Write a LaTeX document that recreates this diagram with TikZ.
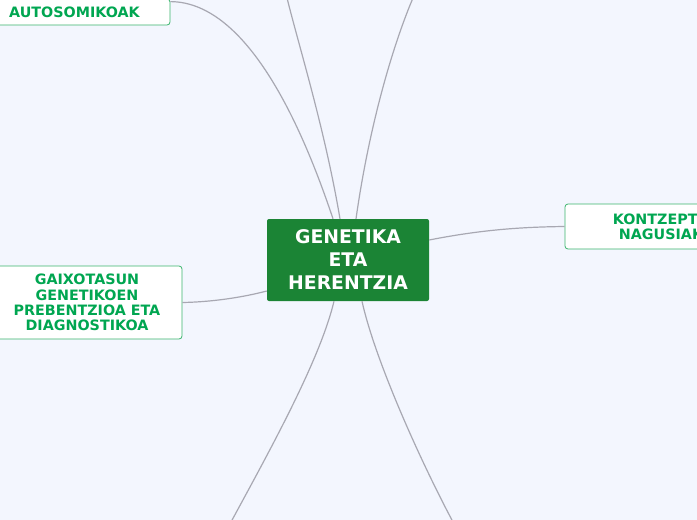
\documentclass[tikz,border=0pt]{standalone}
\usepackage{fontspec}
\setmainfont{DejaVu Sans}
\definecolor{fond}{HTML}{F3F6FE}
\definecolor{vertfonce}{HTML}{1B8435}
\definecolor{vertbord}{HTML}{3BB56D}
\definecolor{verttexte}{HTML}{00A651}
\definecolor{gris}{HTML}{A8A8B2}
\begin{document}
\begin{tikzpicture}[x=1pt,y=-1pt,
  centre/.style={fill=vertfonce, rounded corners=2pt, text=white,
    font=\bfseries\fontsize{18.8}{23}\selectfont, align=center,
    minimum width=162pt, minimum height=82pt, inner sep=0pt},
  branche/.style={draw=vertbord, fill=white, rounded corners=3pt,
    line width=0.8pt, text=verttexte,
    font=\bfseries\fontsize{14.3}{15.3}\selectfont, align=center, inner sep=0pt},
  lien/.style={draw=gris, line width=1.2pt}]

  % Cadre et fond
  \useasboundingbox (0,0) rectangle (697,520);
  \fill[fond] (0,0) rectangle (697,520);

  % Noeud central
  \node[centre] (racine) at (348,260) {GENETIKA\\ETA\\HERENTZIA};

  % Branches
  \node[branche, minimum width=191pt, minimum height=26pt] (autosom) at (74.5,12) {AUTOSOMIKOAK};
  \node[branche, minimum width=190pt, minimum height=73pt] (prebentz) at (87,302.5)
    {GAIXOTASUN\\GENETIKOEN\\PREBENTZIOA ETA\\DIAGNOSTIKOA};
  \node[branche, minimum width=192pt, minimum height=45pt] (kontzept) at (661,226.5)
    {KONTZEPTU\\NAGUSIAK};

  % Extremites hors cadre
  \coordinate (haut1) at (287,-2);
  \coordinate (haut2) at (413,-2);
  \coordinate (bas1) at (231,522);
  \coordinate (bas2) at (453,522);

  % Liens
  \draw[lien] ([xshift=-15pt]racine.north) .. controls (305,135) and (250,2) .. ([yshift=-3pt]autosom.north east);
  \draw[lien] ([xshift=-8pt]racine.north) .. controls (325,130) and (300,50) .. (haut1);
  \draw[lien] ([xshift=8pt]racine.north) .. controls (370,120) and (395,40) .. (haut2);
  \draw[lien] ([yshift=20pt]racine.east) .. controls (480,230) and (520,227) .. (kontzept.west);
  \draw[lien] ([yshift=-31pt]racine.west) .. controls (240,298) and (210,302) .. (prebentz.east);
  \draw[lien] ([xshift=-14pt]racine.south) .. controls (320,360) and (270,450) .. (bas1);
  \draw[lien] ([xshift=14pt]racine.south) .. controls (375,360) and (420,460) .. (bas2);

\end{tikzpicture}
\end{document}
